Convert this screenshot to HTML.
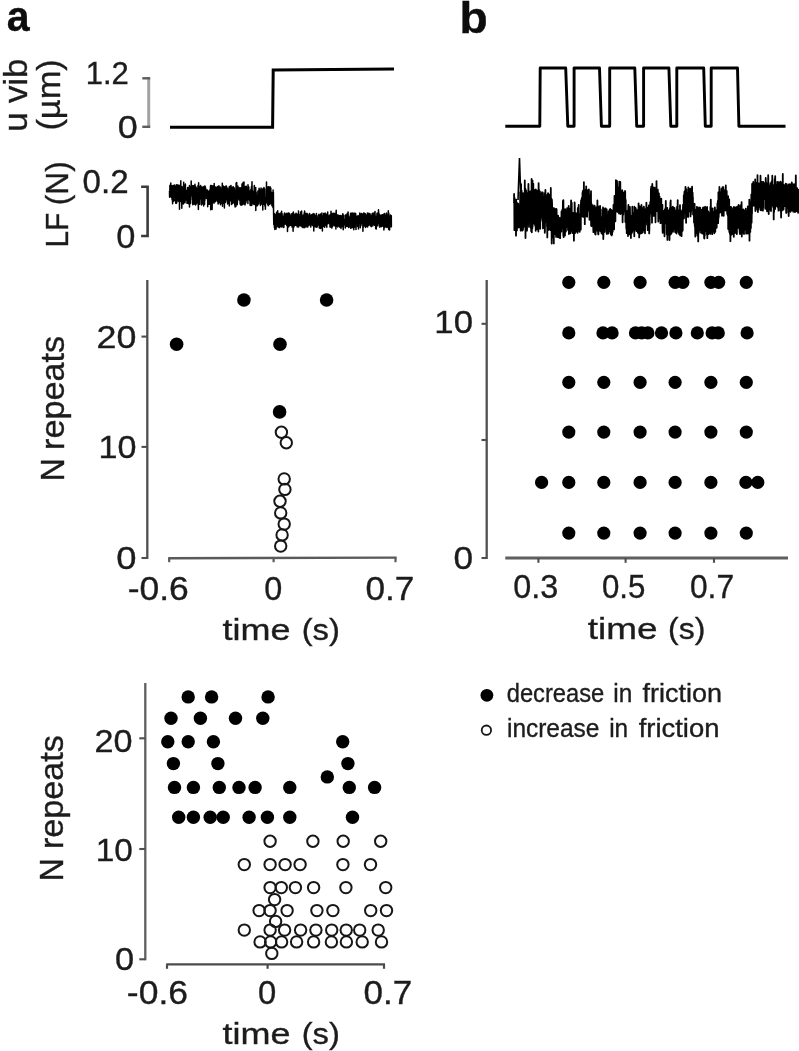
<!DOCTYPE html>
<html><head><meta charset="utf-8"><title>figure</title>
<style>html,body{margin:0;padding:0;background:#fff}svg{display:block;font-family:"Liberation Sans",sans-serif}</style>
</head><body>
<svg width="799" height="1051" viewBox="0 0 799 1051">
<defs><filter id="soft" filterUnits="userSpaceOnUse" x="0" y="0" width="799" height="1051"><feGaussianBlur stdDeviation="0.55"/></filter></defs>
<rect width="799" height="1051" fill="#fff"/>
<g filter="url(#soft)">
<line x1="148.7" y1="77.6" x2="148.7" y2="127.4" stroke="#a2a2a2" stroke-width="3.0"/>
<line x1="142.3" y1="78.3" x2="150.2" y2="78.3" stroke="#5c5c5c" stroke-width="2.4"/>
<line x1="142.3" y1="126.8" x2="150.2" y2="126.8" stroke="#5c5c5c" stroke-width="2.4"/>
<path d="M141.1 186.8 H147.6 V236 H141.1" fill="none" stroke="#3a3a3a" stroke-width="2.6" />
<path d="M170 127.3 H272.6 L273.2 70 L394 69" fill="none" stroke="#000" stroke-width="3" stroke-linejoin="miter"/>
<path d="M169.5,190.9 169.6,197.2 169.8,195.0 169.9,185.7 170.0,185.3 170.1,186.0 170.3,192.8 170.4,187.0 170.5,196.8 170.7,195.8 170.8,183.1 170.9,187.4 171.1,190.6 171.2,188.1 171.3,197.0 171.4,195.3 171.6,185.8 171.7,197.8 171.8,190.7 172.0,193.4 172.1,200.0 172.2,189.4 172.4,194.8 172.5,198.8 172.6,203.7 172.7,192.8 172.9,187.6 173.0,185.4 173.1,199.5 173.3,201.6 173.4,198.2 173.5,195.9 173.7,201.0 173.8,193.9 173.9,185.9 174.0,197.2 174.2,200.6 174.3,192.2 174.4,185.1 174.6,188.0 174.7,185.9 174.8,187.2 175.0,192.3 175.1,186.3 175.2,195.4 175.3,200.6 175.5,190.1 175.6,191.7 175.7,203.3 175.9,188.2 176.0,189.3 176.1,196.2 176.3,184.8 176.4,191.9 176.5,203.2 176.6,194.7 176.8,197.9 176.9,202.2 177.0,201.7 177.2,192.4 177.3,186.8 177.4,186.0 177.6,188.8 177.7,191.4 177.8,184.8 177.9,186.7 178.1,185.3 178.2,196.7 178.3,189.7 178.5,191.8 178.6,201.2 178.7,193.8 178.9,186.5 179.0,191.4 179.1,200.9 179.2,185.3 179.4,195.0 179.5,209.2 179.6,201.5 179.8,189.9 179.9,188.1 180.0,195.1 180.2,191.2 180.3,200.6 180.4,201.4 180.5,200.7 180.7,189.2 180.8,180.8 180.9,194.0 181.1,196.6 181.2,200.5 181.3,191.6 181.5,186.4 181.6,194.0 181.7,194.2 181.8,208.3 182.0,186.5 182.1,202.5 182.2,199.4 182.4,188.3 182.5,191.3 182.6,203.7 182.8,192.7 182.9,198.9 183.0,187.4 183.1,202.4 183.3,187.7 183.4,203.9 183.5,191.7 183.7,182.2 183.8,203.0 183.9,201.8 184.1,189.0 184.2,190.6 184.3,196.3 184.4,193.0 184.6,202.6 184.7,193.8 184.8,202.5 185.0,202.7 185.1,195.2 185.2,185.3 185.4,184.1 185.5,194.1 185.6,195.7 185.7,195.0 185.9,200.1 186.0,195.8 186.1,190.3 186.3,194.8 186.4,199.7 186.5,193.6 186.7,194.8 186.8,198.4 186.9,195.3 187.0,203.2 187.2,202.0 187.3,190.0 187.4,203.3 187.6,187.6 187.7,193.6 187.8,189.7 188.0,198.0 188.1,202.4 188.2,198.9 188.3,187.8 188.5,203.8 188.6,203.5 188.7,194.5 188.9,201.1 189.0,193.4 189.1,191.6 189.3,191.2 189.4,185.4 189.5,207.1 189.6,190.8 189.8,187.2 189.9,189.5 190.0,186.7 190.2,202.6 190.3,199.7 190.4,201.5 190.6,203.4 190.7,195.5 190.8,194.6 190.9,190.5 191.1,188.6 191.2,181.0 191.3,186.7 191.5,186.4 191.6,193.9 191.7,195.8 191.9,190.3 192.0,195.3 192.1,187.2 192.2,186.1 192.4,191.1 192.5,199.8 192.6,194.8 192.8,204.7 192.9,185.5 193.0,204.1 193.2,189.9 193.3,197.9 193.4,197.8 193.5,202.3 193.7,191.1 193.8,189.6 193.9,202.2 194.1,187.8 194.2,204.2 194.3,185.4 194.5,202.2 194.6,186.2 194.7,192.5 194.8,204.0 195.0,184.3 195.1,193.8 195.2,203.8 195.4,195.8 195.5,203.9 195.6,205.0 195.8,190.6 195.9,190.0 196.0,186.9 196.1,188.0 196.3,192.8 196.4,197.4 196.5,203.7 196.7,188.2 196.8,200.4 196.9,200.0 197.1,194.8 197.2,197.2 197.3,201.2 197.4,195.1 197.6,198.8 197.7,202.8 197.8,196.2 198.0,185.5 198.1,200.7 198.2,203.7 198.4,209.5 198.5,192.5 198.6,182.7 198.7,185.3 198.9,199.7 199.0,195.6 199.1,186.5 199.3,190.1 199.4,190.4 199.5,189.2 199.7,204.2 199.8,192.7 199.9,198.5 200.0,197.2 200.2,186.8 200.3,190.2 200.4,191.2 200.6,185.5 200.7,190.5 200.8,198.7 201.0,190.9 201.1,194.3 201.2,187.6 201.3,189.1 201.5,205.1 201.6,195.1 201.7,204.6 201.9,203.1 202.0,186.7 202.1,199.8 202.3,192.3 202.4,197.5 202.5,187.5 202.6,195.0 202.8,192.9 202.9,203.7 203.0,193.2 203.2,193.4 203.3,187.7 203.4,191.6 203.6,193.0 203.7,206.0 203.8,186.6 203.9,202.2 204.1,203.3 204.2,201.9 204.3,186.3 204.5,197.7 204.6,204.2 204.7,191.5 204.9,200.6 205.0,185.9 205.1,193.1 205.2,196.1 205.4,186.9 205.5,193.3 205.6,188.1 205.8,194.8 205.9,196.0 206.0,193.4 206.2,190.3 206.3,198.0 206.4,190.0 206.5,198.4 206.7,197.9 206.8,195.1 206.9,196.1 207.1,191.9 207.2,193.7 207.3,190.1 207.5,196.2 207.6,192.6 207.7,206.8 207.8,199.9 208.0,190.7 208.1,195.1 208.2,192.4 208.4,195.7 208.5,201.9 208.6,202.8 208.8,198.0 208.9,191.5 209.0,204.2 209.1,193.7 209.3,201.0 209.4,194.9 209.5,203.5 209.7,195.7 209.8,194.2 209.9,189.8 210.1,204.3 210.2,201.5 210.3,201.9 210.4,187.1 210.6,185.5 210.7,209.8 210.8,197.6 211.0,194.0 211.1,187.4 211.2,203.8 211.4,190.5 211.5,185.5 211.6,204.8 211.7,191.6 211.9,190.2 212.0,208.5 212.1,209.4 212.3,198.1 212.4,189.9 212.5,192.7 212.7,199.0 212.8,192.5 212.9,185.7 213.0,201.9 213.2,195.1 213.3,200.4 213.4,194.6 213.6,202.8 213.7,197.6 213.8,202.9 214.0,203.2 214.1,197.1 214.2,183.4 214.3,199.3 214.5,194.3 214.6,191.7 214.7,187.1 214.9,189.3 215.0,195.7 215.1,191.6 215.3,201.8 215.4,194.2 215.5,187.1 215.6,193.7 215.8,196.5 215.9,193.0 216.0,191.6 216.2,187.3 216.3,189.4 216.4,194.3 216.6,199.9 216.7,197.8 216.8,197.7 216.9,192.9 217.1,201.2 217.2,189.4 217.3,197.4 217.5,192.1 217.6,186.5 217.7,199.0 217.9,191.4 218.0,197.2 218.1,204.0 218.2,201.6 218.4,199.5 218.5,200.7 218.6,203.4 218.8,188.2 218.9,185.8 219.0,191.5 219.2,188.6 219.3,202.4 219.4,200.9 219.5,195.6 219.7,188.8 219.8,198.3 219.9,196.2 220.1,193.9 220.2,187.1 220.3,189.7 220.5,204.8 220.6,189.0 220.7,194.6 220.8,190.2 221.0,200.7 221.1,200.8 221.2,191.1 221.4,190.6 221.5,194.2 221.6,190.3 221.8,203.3 221.9,187.0 222.0,190.5 222.1,198.3 222.3,183.3 222.4,201.6 222.5,206.3 222.7,186.7 222.8,201.8 222.9,187.2 223.1,189.2 223.2,200.8 223.3,185.9 223.4,199.5 223.6,186.5 223.7,186.6 223.8,186.5 224.0,203.5 224.1,201.6 224.2,193.0 224.4,208.0 224.5,187.0 224.6,193.4 224.7,198.2 224.9,189.0 225.0,193.7 225.1,191.7 225.3,191.8 225.4,192.7 225.5,202.5 225.7,192.8 225.8,199.9 225.9,185.9 226.0,194.0 226.2,193.7 226.3,194.7 226.4,186.1 226.6,198.2 226.7,187.5 226.8,193.0 227.0,188.7 227.1,195.9 227.2,187.9 227.3,201.4 227.5,189.7 227.6,204.1 227.7,195.2 227.9,203.8 228.0,203.4 228.1,201.8 228.3,201.1 228.4,193.7 228.5,201.9 228.6,190.1 228.8,195.9 228.9,188.3 229.0,199.9 229.2,186.7 229.3,205.9 229.4,197.5 229.6,198.0 229.7,194.0 229.8,194.1 229.9,194.5 230.1,186.3 230.2,195.4 230.3,200.7 230.5,194.8 230.6,195.1 230.7,188.4 230.9,187.7 231.0,185.5 231.1,200.1 231.2,195.8 231.4,195.7 231.5,204.4 231.6,202.5 231.8,200.1 231.9,189.7 232.0,195.5 232.2,203.7 232.3,201.2 232.4,187.2 232.5,200.6 232.7,203.3 232.8,201.8 232.9,195.7 233.1,190.0 233.2,195.8 233.3,186.7 233.5,189.1 233.6,199.1 233.7,189.2 233.8,188.2 234.0,198.3 234.1,202.9 234.2,197.2 234.4,188.0 234.5,198.2 234.6,201.4 234.8,205.2 234.9,193.0 235.0,194.6 235.1,207.0 235.3,204.7 235.4,204.0 235.5,200.2 235.7,190.3 235.8,198.1 235.9,206.6 236.1,183.1 236.2,191.9 236.3,196.4 236.4,191.9 236.6,193.1 236.7,182.4 236.8,194.8 237.0,188.8 237.1,191.3 237.2,204.8 237.4,202.0 237.5,197.6 237.6,197.7 237.7,195.6 237.9,186.1 238.0,186.6 238.1,189.2 238.3,188.1 238.4,198.8 238.5,194.1 238.7,198.5 238.8,194.1 238.9,195.9 239.0,198.2 239.2,200.1 239.3,196.5 239.4,194.6 239.6,187.7 239.7,189.5 239.8,191.2 240.0,188.5 240.1,204.0 240.2,191.2 240.3,198.4 240.5,199.4 240.6,205.0 240.7,204.1 240.9,187.8 241.0,189.4 241.1,202.4 241.3,189.2 241.4,189.9 241.5,197.8 241.6,202.7 241.8,205.2 241.9,196.5 242.0,183.9 242.2,200.2 242.3,192.1 242.4,198.2 242.6,203.8 242.7,186.7 242.8,204.2 242.9,185.5 243.1,182.4 243.2,187.4 243.3,193.2 243.5,202.1 243.6,187.5 243.7,203.9 243.9,188.3 244.0,182.0 244.1,198.4 244.2,188.1 244.4,200.9 244.5,192.4 244.6,186.6 244.8,191.7 244.9,193.3 245.0,204.9 245.2,202.7 245.3,186.8 245.4,194.7 245.5,192.9 245.7,196.7 245.8,202.9 245.9,202.1 246.1,186.3 246.2,201.0 246.3,186.3 246.5,195.8 246.6,189.8 246.7,193.0 246.8,191.3 247.0,191.8 247.1,199.8 247.2,188.4 247.4,187.8 247.5,199.8 247.6,198.4 247.8,194.0 247.9,203.5 248.0,184.7 248.1,194.6 248.3,189.6 248.4,198.5 248.5,188.7 248.7,199.6 248.8,186.9 248.9,196.4 249.1,195.0 249.2,192.6 249.3,199.7 249.4,190.8 249.6,198.8 249.7,196.2 249.8,200.9 250.0,198.3 250.1,205.2 250.2,198.0 250.4,190.9 250.5,191.3 250.6,205.6 250.7,199.1 250.9,189.3 251.0,192.2 251.1,191.6 251.3,204.0 251.4,203.5 251.5,186.6 251.7,194.8 251.8,205.4 251.9,186.8 252.0,181.7 252.2,194.7 252.3,200.9 252.4,190.8 252.6,203.4 252.7,199.9 252.8,199.5 253.0,195.2 253.1,198.6 253.2,194.5 253.3,200.2 253.5,191.2 253.6,195.2 253.7,194.3 253.9,204.4 254.0,199.1 254.1,193.9 254.3,185.6 254.4,201.6 254.5,196.5 254.6,197.6 254.8,200.3 254.9,198.8 255.0,196.5 255.2,204.8 255.3,199.7 255.4,201.2 255.6,205.5 255.7,187.5 255.8,210.5 255.9,198.6 256.1,197.7 256.2,192.3 256.3,204.9 256.5,205.7 256.6,195.4 256.7,204.5 256.9,201.9 257.0,198.9 257.1,202.3 257.2,199.4 257.4,201.9 257.5,205.8 257.6,199.1 257.8,195.6 257.9,191.0 258.0,199.8 258.2,199.6 258.3,202.1 258.4,193.4 258.5,192.7 258.7,198.6 258.8,203.9 258.9,192.4 259.1,188.2 259.2,192.8 259.3,196.8 259.5,197.8 259.6,190.6 259.7,192.2 259.8,197.7 260.0,190.1 260.1,201.7 260.2,194.3 260.4,198.4 260.5,205.5 260.6,204.0 260.8,198.9 260.9,196.1 261.0,188.1 261.1,199.6 261.3,188.9 261.4,202.6 261.5,197.4 261.7,204.1 261.8,191.3 261.9,198.2 262.1,189.7 262.2,200.1 262.3,192.3 262.4,194.8 262.6,199.7 262.7,193.6 262.8,210.1 263.0,188.4 263.1,201.3 263.2,190.7 263.4,189.1 263.5,199.4 263.6,201.7 263.7,204.3 263.9,193.2 264.0,187.6 264.1,193.5 264.3,193.1 264.4,203.5 264.5,190.6 264.7,188.9 264.8,200.5 264.9,205.5 265.0,206.0 265.2,197.4 265.3,197.8 265.4,209.2 265.6,199.4 265.7,204.3 265.8,198.6 266.0,200.2 266.1,199.9 266.2,199.6 266.3,201.4 266.5,182.0 266.6,199.4 266.7,202.6 266.9,197.6 267.0,192.5 267.1,192.9 267.3,199.1 267.4,187.7 267.5,187.5 267.6,202.4 267.8,204.5 267.9,187.0 268.0,198.2 268.2,205.7 268.3,194.7 268.4,199.2 268.6,186.7 268.7,199.7 268.8,203.4 268.9,189.1 269.1,192.1 269.2,195.5 269.3,204.6 269.5,201.2 269.6,189.5 269.7,192.4 269.9,196.4 270.0,204.0 270.1,186.7 270.2,199.4 270.4,188.3 270.5,200.9 270.6,203.4 270.8,187.9 270.9,197.9 271.0,199.9 271.2,202.2 271.3,199.3 271.4,194.9 271.5,202.0 271.7,202.0 271.8,192.5 271.9,205.7 272.1,202.8 272.2,198.5 272.3,202.9 272.5,192.8 272.6,204.0 272.7,200.1 272.8,204.2 273.0,207.6 273.1,189.9 273.2,201.6 273.4,192.4 273.5,204.1 273.6,215.1 273.8,224.6 273.9,224.4 274.0,220.8 274.1,220.1 274.3,224.5 274.4,227.4 274.5,213.8 274.7,223.3 274.8,229.4 274.9,214.3 275.1,224.3 275.2,221.5 275.3,225.9 275.4,220.0 275.6,215.8 275.7,215.6 275.8,218.3 276.0,218.9 276.1,229.1 276.2,214.5 276.4,224.5 276.5,221.7 276.6,212.2 276.7,225.7 276.9,221.6 277.0,226.5 277.1,214.4 277.3,221.7 277.4,214.9 277.5,217.9 277.7,210.8 277.8,225.7 277.9,226.8 278.0,213.9 278.2,218.8 278.3,227.0 278.4,221.2 278.6,227.0 278.7,218.7 278.8,215.3 279.0,227.5 279.1,213.6 279.2,218.1 279.3,226.2 279.5,213.7 279.6,223.4 279.7,227.4 279.9,215.1 280.0,226.7 280.1,217.4 280.3,224.1 280.4,217.7 280.5,214.8 280.6,215.5 280.8,215.1 280.9,213.2 281.0,212.7 281.2,222.0 281.3,223.9 281.4,227.0 281.6,211.2 281.7,218.0 281.8,220.0 281.9,215.1 282.1,213.8 282.2,221.1 282.3,225.7 282.5,219.0 282.6,217.0 282.7,217.9 282.9,220.2 283.0,226.2 283.1,227.3 283.2,226.1 283.4,216.1 283.5,217.2 283.6,215.9 283.8,227.5 283.9,226.5 284.0,217.2 284.2,213.8 284.3,217.3 284.4,213.2 284.5,218.0 284.7,213.0 284.8,220.7 284.9,219.4 285.1,216.2 285.2,215.0 285.3,224.3 285.5,215.9 285.6,214.3 285.7,220.2 285.8,216.0 286.0,223.3 286.1,221.5 286.2,214.0 286.4,219.0 286.5,213.8 286.6,217.9 286.8,225.6 286.9,213.2 287.0,220.0 287.1,216.9 287.3,225.1 287.4,215.4 287.5,231.4 287.7,214.0 287.8,216.6 287.9,226.3 288.1,225.7 288.2,226.1 288.3,214.6 288.4,212.9 288.6,227.1 288.7,215.7 288.8,216.7 289.0,213.4 289.1,223.2 289.2,213.2 289.4,221.4 289.5,223.3 289.6,225.7 289.7,213.7 289.9,220.2 290.0,217.1 290.1,218.9 290.3,221.6 290.4,215.1 290.5,223.9 290.7,225.1 290.8,218.7 290.9,225.3 291.0,218.8 291.2,224.3 291.3,216.5 291.4,219.4 291.6,224.8 291.7,224.9 291.8,213.8 292.0,227.0 292.1,216.6 292.2,222.2 292.3,220.8 292.5,219.3 292.6,213.3 292.7,227.2 292.9,226.7 293.0,224.8 293.1,231.2 293.3,222.1 293.4,212.0 293.5,220.6 293.6,226.9 293.8,217.5 293.9,214.7 294.0,227.0 294.2,216.9 294.3,220.8 294.4,214.8 294.6,217.3 294.7,217.2 294.8,214.3 294.9,225.3 295.1,221.3 295.2,215.9 295.3,219.7 295.5,221.9 295.6,217.5 295.7,216.2 295.9,218.6 296.0,213.2 296.1,225.6 296.2,221.1 296.4,217.2 296.5,217.3 296.6,215.3 296.8,225.7 296.9,213.9 297.0,219.4 297.2,214.6 297.3,227.0 297.4,215.2 297.5,218.1 297.7,222.0 297.8,225.0 297.9,223.8 298.1,224.1 298.2,224.5 298.3,226.4 298.5,211.1 298.6,227.1 298.7,219.1 298.8,225.7 299.0,218.5 299.1,219.7 299.2,217.3 299.4,221.1 299.5,217.7 299.6,225.4 299.8,219.5 299.9,217.4 300.0,221.4 300.1,214.3 300.3,217.7 300.4,225.2 300.5,216.0 300.7,212.0 300.8,226.1 300.9,220.8 301.1,222.1 301.2,225.1 301.3,219.3 301.4,213.6 301.6,211.0 301.7,214.4 301.8,218.9 302.0,221.4 302.1,227.1 302.2,219.4 302.4,227.6 302.5,220.7 302.6,215.5 302.7,227.3 302.9,220.5 303.0,226.1 303.1,225.0 303.3,226.0 303.4,215.3 303.5,220.5 303.7,215.7 303.8,222.2 303.9,218.2 304.0,227.7 304.2,213.0 304.3,221.1 304.4,218.8 304.6,211.1 304.7,221.1 304.8,222.4 305.0,227.6 305.1,219.0 305.2,215.3 305.3,214.5 305.5,215.5 305.6,225.0 305.7,224.8 305.9,213.2 306.0,217.7 306.1,218.2 306.3,216.9 306.4,226.2 306.5,218.1 306.6,218.6 306.8,226.0 306.9,227.0 307.0,222.1 307.2,213.6 307.3,225.5 307.4,226.1 307.6,217.4 307.7,227.0 307.8,226.9 307.9,218.7 308.1,216.2 308.2,225.8 308.3,224.6 308.5,215.5 308.6,215.7 308.7,217.2 308.9,214.7 309.0,218.6 309.1,213.9 309.2,225.1 309.4,216.6 309.5,217.1 309.6,213.5 309.8,218.0 309.9,223.3 310.0,216.9 310.2,214.9 310.3,225.2 310.4,215.3 310.5,223.6 310.7,227.0 310.8,226.9 310.9,216.3 311.1,214.9 311.2,216.8 311.3,221.6 311.5,216.6 311.6,216.1 311.7,214.8 311.8,220.9 312.0,224.3 312.1,222.6 312.2,217.5 312.4,214.2 312.5,225.4 312.6,222.7 312.8,221.2 312.9,220.3 313.0,214.0 313.1,216.3 313.3,223.5 313.4,218.9 313.5,224.3 313.7,225.6 313.8,231.1 313.9,213.4 314.1,219.8 314.2,218.8 314.3,214.4 314.4,217.0 314.6,216.2 314.7,218.9 314.8,219.3 315.0,215.3 315.1,221.1 315.2,226.8 315.4,216.3 315.5,220.6 315.6,222.8 315.7,226.7 315.9,224.2 316.0,226.2 316.1,221.5 316.3,227.2 316.4,213.5 316.5,224.4 316.7,226.3 316.8,223.9 316.9,222.0 317.0,220.7 317.2,226.9 317.3,218.0 317.4,223.1 317.6,222.1 317.7,222.9 317.8,222.8 318.0,224.4 318.1,215.8 318.2,225.1 318.3,215.5 318.5,224.4 318.6,216.8 318.7,215.4 318.9,214.3 319.0,215.0 319.1,220.1 319.3,228.1 319.4,222.4 319.5,214.9 319.6,221.6 319.8,222.2 319.9,219.2 320.0,222.9 320.2,227.3 320.3,218.9 320.4,228.4 320.6,213.9 320.7,215.9 320.8,219.5 320.9,217.7 321.1,218.3 321.2,227.9 321.3,223.5 321.5,221.2 321.6,220.1 321.7,215.8 321.9,213.1 322.0,222.4 322.1,226.7 322.2,216.7 322.4,230.9 322.5,217.3 322.6,222.3 322.8,226.5 322.9,224.5 323.0,223.8 323.2,215.7 323.3,217.7 323.4,221.0 323.5,225.1 323.7,213.6 323.8,222.2 323.9,223.3 324.1,226.8 324.2,220.3 324.3,217.4 324.5,214.2 324.6,215.4 324.7,227.2 324.8,213.6 325.0,215.8 325.1,213.0 325.2,225.5 325.4,219.2 325.5,222.7 325.6,219.1 325.8,219.4 325.9,225.1 326.0,215.4 326.1,219.5 326.3,218.1 326.4,214.2 326.5,219.7 326.7,226.3 326.8,227.2 326.9,222.1 327.1,213.9 327.2,221.9 327.3,221.3 327.4,220.0 327.6,217.4 327.7,212.1 327.8,223.8 328.0,215.1 328.1,221.1 328.2,218.3 328.4,219.4 328.5,216.3 328.6,216.0 328.7,216.2 328.9,222.5 329.0,222.8 329.1,216.3 329.3,220.9 329.4,223.7 329.5,221.3 329.7,222.9 329.8,215.0 329.9,220.4 330.0,226.9 330.2,227.0 330.3,219.7 330.4,220.9 330.6,215.8 330.7,214.4 330.8,222.0 331.0,211.2 331.1,214.8 331.2,226.3 331.3,227.4 331.5,214.7 331.6,218.2 331.7,225.3 331.9,228.1 332.0,218.4 332.1,226.9 332.3,213.6 332.4,214.4 332.5,224.7 332.6,226.5 332.8,216.7 332.9,219.5 333.0,221.5 333.2,213.3 333.3,224.7 333.4,221.1 333.6,223.0 333.7,215.1 333.8,220.9 333.9,224.8 334.1,213.2 334.2,215.2 334.3,225.8 334.5,213.5 334.6,225.0 334.7,218.7 334.9,215.3 335.0,218.7 335.1,221.9 335.2,217.8 335.4,226.1 335.5,213.6 335.6,218.3 335.8,221.4 335.9,228.9 336.0,213.3 336.2,210.2 336.3,215.1 336.4,213.9 336.5,218.2 336.7,221.5 336.8,223.2 336.9,226.2 337.1,215.9 337.2,221.3 337.3,224.6 337.5,216.5 337.6,215.1 337.7,227.1 337.8,218.3 338.0,216.6 338.1,223.5 338.2,223.3 338.4,225.9 338.5,220.4 338.6,224.8 338.8,215.2 338.9,226.0 339.0,218.9 339.1,224.3 339.3,221.6 339.4,223.5 339.5,221.4 339.7,227.1 339.8,215.8 339.9,221.5 340.1,218.2 340.2,227.2 340.3,223.5 340.4,225.3 340.6,215.6 340.7,221.0 340.8,222.1 341.0,228.4 341.1,221.8 341.2,222.5 341.4,223.7 341.5,221.8 341.6,224.8 341.7,218.0 341.9,215.7 342.0,225.8 342.1,226.5 342.3,217.8 342.4,222.5 342.5,222.9 342.7,213.8 342.8,213.7 342.9,217.9 343.0,221.7 343.2,229.8 343.3,227.4 343.4,222.0 343.6,217.8 343.7,215.3 343.8,224.2 344.0,224.9 344.1,220.9 344.2,221.1 344.3,221.8 344.5,223.8 344.6,223.4 344.7,224.3 344.9,224.3 345.0,219.6 345.1,220.6 345.3,228.0 345.4,224.8 345.5,215.2 345.6,218.9 345.8,226.7 345.9,214.8 346.0,216.0 346.2,216.8 346.3,223.8 346.4,225.7 346.6,224.4 346.7,218.1 346.8,219.4 346.9,216.1 347.1,226.2 347.2,216.1 347.3,213.4 347.5,213.2 347.6,226.3 347.7,218.1 347.9,218.5 348.0,218.5 348.1,212.0 348.2,219.3 348.4,216.0 348.5,222.4 348.6,227.5 348.8,221.3 348.9,225.6 349.0,216.9 349.2,225.0 349.3,217.8 349.4,226.0 349.5,223.0 349.7,219.6 349.8,225.9 349.9,225.9 350.1,224.4 350.2,215.7 350.3,227.5 350.5,213.3 350.6,228.2 350.7,223.8 350.8,215.5 351.0,214.3 351.1,226.4 351.2,225.9 351.4,213.5 351.5,224.6 351.6,213.5 351.8,216.4 351.9,227.9 352.0,214.6 352.1,227.2 352.3,213.0 352.4,220.9 352.5,221.0 352.7,220.7 352.8,227.0 352.9,227.2 353.1,227.2 353.2,214.0 353.3,213.2 353.4,227.1 353.6,213.7 353.7,226.9 353.8,229.7 354.0,221.0 354.1,227.4 354.2,223.5 354.4,217.6 354.5,227.2 354.6,218.6 354.7,215.1 354.9,213.1 355.0,226.5 355.1,221.9 355.3,216.5 355.4,214.7 355.5,224.5 355.7,213.7 355.8,217.7 355.9,221.0 356.0,229.6 356.2,221.6 356.3,216.4 356.4,223.9 356.6,223.4 356.7,220.7 356.8,222.9 357.0,222.2 357.1,216.3 357.2,216.9 357.3,219.9 357.5,220.6 357.6,216.2 357.7,226.5 357.9,220.6 358.0,224.9 358.1,215.5 358.3,219.7 358.4,225.1 358.5,229.0 358.6,225.6 358.8,219.0 358.9,218.5 359.0,222.7 359.2,217.4 359.3,217.0 359.4,219.5 359.6,222.3 359.7,215.5 359.8,213.1 359.9,220.1 360.1,222.1 360.2,224.7 360.3,227.8 360.5,215.6 360.6,217.0 360.7,216.5 360.9,214.3 361.0,225.5 361.1,219.2 361.2,222.0 361.4,213.6 361.5,218.4 361.6,217.3 361.8,222.5 361.9,218.1 362.0,221.5 362.2,215.8 362.3,223.4 362.4,222.7 362.5,214.0 362.7,218.5 362.8,220.3 362.9,231.2 363.1,223.2 363.2,227.5 363.3,213.9 363.5,215.0 363.6,213.1 363.7,215.9 363.8,226.5 364.0,217.8 364.1,219.7 364.2,225.4 364.4,213.2 364.5,225.4 364.6,219.6 364.8,215.9 364.9,225.6 365.0,223.9 365.1,215.0 365.3,213.7 365.4,217.7 365.5,227.4 365.7,220.9 365.8,214.3 365.9,222.7 366.1,218.8 366.2,222.9 366.3,216.6 366.4,219.4 366.6,217.4 366.7,216.0 366.8,226.6 367.0,223.4 367.1,226.6 367.2,219.7 367.4,222.7 367.5,213.1 367.6,226.9 367.7,213.5 367.9,219.4 368.0,216.1 368.1,221.9 368.3,223.6 368.4,216.0 368.5,225.5 368.7,215.0 368.8,224.9 368.9,213.2 369.0,223.8 369.2,216.2 369.3,223.9 369.4,220.8 369.6,224.4 369.7,220.5 369.8,215.9 370.0,213.7 370.1,225.2 370.2,219.5 370.3,225.7 370.5,214.9 370.6,219.5 370.7,225.8 370.9,223.3 371.0,217.5 371.1,221.0 371.3,226.8 371.4,216.4 371.5,217.8 371.6,217.2 371.8,223.1 371.9,215.2 372.0,217.9 372.2,213.6 372.3,222.6 372.4,222.6 372.6,214.1 372.7,213.2 372.8,226.0 372.9,215.9 373.1,217.4 373.2,224.0 373.3,219.9 373.5,224.2 373.6,221.5 373.7,221.5 373.9,213.0 374.0,215.2 374.1,215.5 374.2,220.0 374.4,218.3 374.5,225.2 374.6,223.6 374.8,223.9 374.9,215.3 375.0,211.4 375.2,223.2 375.3,225.2 375.4,223.6 375.5,218.2 375.7,228.8 375.8,216.8 375.9,216.5 376.1,216.9 376.2,217.7 376.3,229.0 376.5,215.9 376.6,216.0 376.7,216.5 376.8,220.3 377.0,213.2 377.1,220.1 377.2,221.3 377.4,216.3 377.5,215.2 377.6,213.4 377.8,220.6 377.9,226.0 378.0,221.4 378.1,221.7 378.3,223.4 378.4,216.6 378.5,209.8 378.7,218.0 378.8,219.7 378.9,213.1 379.1,219.0 379.2,214.3 379.3,223.7 379.4,215.2 379.6,215.0 379.7,216.2 379.8,227.3 380.0,224.6 380.1,220.3 380.2,226.3 380.4,222.3 380.5,222.1 380.6,224.5 380.7,223.5 380.9,215.4 381.0,222.8 381.1,215.0 381.3,226.7 381.4,223.9 381.5,224.7 381.7,219.4 381.8,224.5 381.9,217.4 382.0,220.8 382.2,214.7 382.3,224.5 382.4,225.2 382.6,215.9 382.7,216.4 382.8,226.3 383.0,223.4 383.1,224.4 383.2,223.0 383.3,225.1 383.5,214.3 383.6,225.2 383.7,221.7 383.9,229.9 384.0,226.9 384.1,219.9 384.3,217.4 384.4,221.0 384.5,218.7 384.6,213.5 384.8,227.5 384.9,226.0 385.0,220.9 385.2,216.2 385.3,218.5 385.4,218.7 385.6,215.2 385.7,218.1 385.8,225.9 385.9,217.5 386.1,225.8 386.2,221.9 386.3,227.1 386.5,213.1 386.6,214.5 386.7,221.3 386.9,223.8 387.0,227.4 387.1,224.0 387.2,215.0 387.4,216.7 387.5,220.5 387.6,216.9 387.8,217.5 387.9,223.0 388.0,224.8 388.2,222.6 388.3,210.8 388.4,219.5 388.5,226.0 388.7,229.5 388.8,213.1 388.9,217.0 389.1,226.4 389.2,227.6 389.3,221.6 389.5,222.2 389.6,230.1 389.7,224.8 389.8,218.6 390.0,223.4 390.1,217.0 390.2,221.4 390.4,224.6 390.5,215.0 390.6,225.8 390.8,223.8 390.9,217.6 391.0,217.3 391.1,227.1 391.3,215.7 391.4,226.8" fill="none" stroke="#000" stroke-width="1.5" stroke-linejoin="round"/>
<path d="M505.3 126.2 H539.8 L540.2 68 H565.7 L567.8 126.2 H574.1 V68 H599.5 L601.4 126.2 H609.7 V68 H634.8 L636.7 126.2 H643.6 V68 H668.9 L670.8 126.2 H676.8 V68 H703.7 L705.3 126.2 H711.2 V68 H737.5 L738.9 126.2 H785.5" fill="none" stroke="#000" stroke-width="2.9" stroke-linejoin="round"/>
<path d="M514.0,202.9 514.1,193.9 514.3,206.0 514.4,230.2 514.6,197.9 514.7,208.4 514.8,216.3 515.0,202.6 515.1,221.4 515.3,213.0 515.4,221.2 515.5,204.7 515.7,211.7 515.8,216.0 516.0,235.7 516.1,229.2 516.2,199.6 516.4,212.6 516.5,218.1 516.7,223.6 516.8,202.3 516.9,230.4 517.1,218.7 517.2,206.0 517.4,220.8 517.5,205.9 517.6,204.1 517.8,226.3 517.9,211.4 518.1,227.6 518.2,203.6 518.3,206.8 518.5,225.5 518.6,213.8 518.8,213.6 518.9,225.2 519.0,224.9 519.2,217.8 519.3,210.5 519.5,227.4 519.6,224.1 519.7,226.6 519.9,219.2 520.0,215.3 520.2,192.1 520.3,224.3 520.4,198.3 520.6,193.2 520.7,230.7 520.9,204.5 521.0,192.3 521.1,184.2 521.3,210.6 521.4,214.3 521.6,190.6 521.7,209.1 521.8,201.8 522.0,230.3 522.1,199.0 522.3,224.1 522.4,230.6 522.5,219.6 522.7,196.6 522.8,200.6 523.0,229.8 523.1,193.1 523.2,205.8 523.4,206.6 523.5,226.7 523.7,205.0 523.8,217.2 523.9,216.5 524.1,207.6 524.2,226.7 524.4,197.4 524.5,194.0 524.6,221.5 524.8,180.4 524.9,220.8 525.1,197.8 525.2,224.9 525.3,188.5 525.5,238.0 525.6,215.9 525.8,202.7 525.9,193.7 526.0,218.6 526.2,190.5 526.3,222.1 526.5,225.7 526.6,226.8 526.7,192.8 526.9,202.8 527.0,230.7 527.2,211.7 527.3,205.8 527.4,217.1 527.6,197.5 527.7,223.9 527.9,222.2 528.0,196.1 528.1,207.8 528.3,194.0 528.4,184.0 528.6,191.1 528.7,212.0 528.8,203.0 529.0,226.9 529.1,216.4 529.3,199.6 529.4,205.5 529.5,214.4 529.7,197.7 529.8,214.1 530.0,219.3 530.1,192.1 530.2,191.5 530.4,206.3 530.5,219.6 530.7,216.9 530.8,209.3 530.9,227.9 531.1,191.9 531.2,231.2 531.4,205.9 531.5,224.3 531.6,179.0 531.8,232.3 531.9,199.5 532.1,198.6 532.2,228.8 532.3,228.3 532.5,180.7 532.6,226.7 532.8,195.3 532.9,215.4 533.0,210.9 533.2,205.5 533.3,183.6 533.5,215.6 533.6,223.2 533.7,191.6 533.9,201.6 534.0,189.6 534.2,190.3 534.3,223.7 534.4,194.4 534.6,198.1 534.7,193.9 534.9,212.5 535.0,193.2 535.1,225.4 535.3,193.6 535.4,202.1 535.6,195.5 535.7,230.8 535.8,189.5 536.0,194.1 536.1,214.7 536.3,208.6 536.4,215.2 536.5,228.2 536.7,223.1 536.8,224.8 537.0,190.6 537.1,225.4 537.2,226.6 537.4,229.3 537.5,219.3 537.7,202.0 537.8,203.0 537.9,208.1 538.1,217.0 538.2,221.6 538.4,231.5 538.5,200.9 538.6,183.1 538.8,204.4 538.9,189.3 539.1,199.4 539.2,192.6 539.3,190.8 539.5,207.3 539.6,192.0 539.8,208.7 539.9,191.5 540.0,199.7 540.2,228.8 540.3,222.2 540.5,216.8 540.6,221.3 540.7,219.6 540.9,194.3 541.0,215.2 541.2,196.3 541.3,201.3 541.4,203.8 541.6,193.1 541.7,216.5 541.9,217.1 542.0,195.3 542.1,192.1 542.3,192.6 542.4,212.0 542.6,192.4 542.7,220.0 542.8,210.9 543.0,228.4 543.1,227.5 543.3,206.0 543.4,196.6 543.5,226.6 543.7,208.8 543.8,198.0 544.0,222.6 544.1,198.1 544.2,203.5 544.4,225.2 544.5,193.1 544.7,217.4 544.8,232.8 544.9,231.0 545.1,217.0 545.2,198.7 545.4,189.9 545.5,194.8 545.6,204.7 545.8,195.1 545.9,199.9 546.1,211.5 546.2,199.8 546.3,201.4 546.5,221.8 546.6,197.6 546.8,205.7 546.9,216.7 547.0,226.4 547.2,217.7 547.3,237.4 547.5,194.6 547.6,210.8 547.7,210.6 547.9,228.4 548.0,193.2 548.2,201.9 548.3,200.9 548.4,193.6 548.6,211.3 548.7,216.7 548.9,229.8 549.0,194.6 549.1,194.6 549.3,213.2 549.4,197.0 549.6,211.9 549.7,224.7 549.8,225.7 550.0,197.9 550.1,225.3 550.3,222.1 550.4,204.9 550.5,219.4 550.7,230.2 550.8,188.0 551.0,221.4 551.1,210.2 551.2,230.1 551.4,198.6 551.5,221.8 551.7,243.6 551.8,201.0 551.9,199.7 552.1,203.8 552.2,226.1 552.4,233.1 552.5,237.6 552.6,216.9 552.8,233.8 552.9,235.5 553.1,208.5 553.2,208.2 553.3,217.3 553.5,234.9 553.6,216.0 553.8,243.4 553.9,210.8 554.0,208.2 554.2,223.6 554.3,221.8 554.5,212.5 554.6,213.1 554.7,234.2 554.9,209.0 555.0,229.3 555.2,218.7 555.3,231.7 555.4,213.6 555.6,212.9 555.7,229.6 555.9,228.7 556.0,220.0 556.1,236.9 556.3,208.9 556.4,212.3 556.6,209.2 556.7,216.4 556.8,229.0 557.0,221.1 557.1,223.7 557.3,218.9 557.4,224.7 557.5,225.8 557.7,219.4 557.8,237.0 558.0,220.3 558.1,215.6 558.2,229.2 558.4,228.6 558.5,217.7 558.7,221.3 558.8,231.0 558.9,234.9 559.1,217.6 559.2,237.6 559.4,237.4 559.5,220.0 559.6,230.6 559.8,229.4 559.9,222.8 560.1,238.2 560.2,234.6 560.3,223.3 560.5,226.5 560.6,222.1 560.8,217.9 560.9,218.3 561.0,217.3 561.2,228.9 561.3,231.6 561.5,211.3 561.6,216.6 561.7,213.9 561.9,225.8 562.0,219.0 562.2,227.5 562.3,209.7 562.4,228.1 562.6,209.1 562.7,225.9 562.9,200.9 563.0,210.3 563.1,213.0 563.3,235.2 563.4,200.1 563.6,237.2 563.7,217.9 563.8,217.4 564.0,222.2 564.1,209.3 564.3,212.5 564.4,226.5 564.5,215.5 564.7,229.6 564.8,222.4 565.0,235.6 565.1,209.1 565.2,228.4 565.4,229.1 565.5,231.4 565.7,210.3 565.8,213.2 565.9,231.5 566.1,214.3 566.2,227.2 566.4,211.5 566.5,224.7 566.6,226.2 566.8,215.0 566.9,223.1 567.1,208.2 567.2,213.8 567.3,226.1 567.5,225.3 567.6,213.2 567.8,226.7 567.9,211.8 568.0,229.7 568.2,228.1 568.3,230.3 568.5,216.3 568.6,208.7 568.7,205.9 568.9,234.1 569.0,220.4 569.2,210.4 569.3,222.0 569.4,227.6 569.6,229.3 569.7,208.9 569.9,220.8 570.0,226.1 570.1,216.0 570.3,227.2 570.4,217.4 570.6,233.3 570.7,224.4 570.8,219.8 571.0,206.3 571.1,200.3 571.3,225.5 571.4,221.5 571.5,226.5 571.7,202.7 571.8,226.5 572.0,229.8 572.1,218.1 572.2,217.5 572.4,226.6 572.5,231.7 572.7,222.1 572.8,233.1 572.9,226.8 573.1,213.0 573.2,229.4 573.4,217.6 573.5,228.7 573.6,232.3 573.8,230.9 573.9,240.7 574.1,226.1 574.2,223.8 574.3,227.0 574.5,225.7 574.6,202.3 574.8,206.9 574.9,223.6 575.0,233.3 575.2,230.4 575.3,214.0 575.5,217.1 575.6,217.2 575.7,212.9 575.9,218.1 576.0,231.5 576.2,213.4 576.3,229.1 576.4,227.0 576.6,229.4 576.7,225.0 576.9,230.1 577.0,221.7 577.1,229.6 577.3,230.2 577.4,231.2 577.6,232.9 577.7,225.6 577.8,207.9 578.0,221.9 578.1,216.1 578.3,228.5 578.4,212.6 578.5,213.6 578.7,204.9 578.8,208.6 579.0,227.4 579.1,219.5 579.2,229.1 579.4,215.3 579.5,231.7 579.7,231.8 579.8,215.3 579.9,222.7 580.1,223.0 580.2,220.7 580.4,217.3 580.5,223.4 580.6,213.8 580.8,229.6 580.9,204.3 581.1,200.2 581.2,210.2 581.3,208.6 581.5,209.8 581.6,216.3 581.8,197.9 581.9,214.1 582.0,215.5 582.2,200.9 582.3,208.6 582.5,192.6 582.6,196.4 582.7,192.0 582.9,201.6 583.0,190.7 583.2,216.9 583.3,210.6 583.4,214.2 583.6,209.5 583.7,197.4 583.9,182.2 584.0,214.8 584.1,190.7 584.3,210.9 584.4,204.7 584.6,194.7 584.7,202.0 584.8,224.2 585.0,191.4 585.1,202.8 585.3,211.5 585.4,191.7 585.5,216.2 585.7,189.7 585.8,204.5 586.0,211.9 586.1,201.9 586.2,186.4 586.4,212.9 586.5,203.4 586.7,196.1 586.8,192.9 586.9,198.8 587.1,216.8 587.2,212.9 587.4,199.6 587.5,205.7 587.6,190.7 587.8,190.1 587.9,199.1 588.1,209.8 588.2,200.8 588.3,202.2 588.5,201.9 588.6,193.4 588.8,198.0 588.9,189.4 589.0,196.6 589.2,212.0 589.3,200.5 589.5,219.8 589.6,205.6 589.7,198.6 589.9,195.4 590.0,206.6 590.2,215.3 590.3,197.5 590.4,210.5 590.6,207.0 590.7,215.3 590.9,199.2 591.0,191.1 591.1,225.3 591.3,203.0 591.4,226.2 591.6,206.8 591.7,205.6 591.8,218.9 592.0,208.2 592.1,209.5 592.3,216.1 592.4,211.5 592.5,207.9 592.7,205.1 592.8,207.1 593.0,210.2 593.1,208.1 593.2,227.1 593.4,232.1 593.5,222.0 593.7,209.1 593.8,218.7 593.9,227.6 594.1,217.4 594.2,231.1 594.4,223.3 594.5,207.6 594.6,205.7 594.8,211.1 594.9,223.7 595.1,233.8 595.2,234.0 595.3,217.5 595.5,213.1 595.6,234.5 595.8,211.5 595.9,210.8 596.0,227.3 596.2,221.4 596.3,207.5 596.5,228.8 596.6,219.2 596.7,223.4 596.9,217.7 597.0,230.7 597.2,222.3 597.3,211.5 597.4,200.3 597.6,216.7 597.7,211.9 597.9,225.2 598.0,220.0 598.1,234.0 598.3,231.7 598.4,234.4 598.6,225.2 598.7,206.7 598.8,215.7 599.0,222.3 599.1,216.0 599.3,221.9 599.4,230.7 599.5,220.4 599.7,207.9 599.8,208.9 600.0,214.8 600.1,205.8 600.2,214.3 600.4,231.0 600.5,226.9 600.7,227.1 600.8,209.3 600.9,226.8 601.1,224.9 601.2,217.0 601.4,233.0 601.5,218.5 601.6,229.3 601.8,219.4 601.9,217.8 602.1,219.8 602.2,227.6 602.3,225.6 602.5,234.3 602.6,227.3 602.8,224.4 602.9,213.6 603.0,207.5 603.2,209.0 603.3,239.1 603.5,231.1 603.6,214.7 603.7,223.7 603.9,224.7 604.0,224.7 604.2,213.9 604.3,232.0 604.4,230.6 604.6,213.9 604.7,211.1 604.9,215.0 605.0,208.3 605.1,224.1 605.3,212.5 605.4,219.7 605.6,208.3 605.7,224.9 605.8,221.4 606.0,213.8 606.1,209.9 606.3,231.5 606.4,231.8 606.5,232.8 606.7,209.3 606.8,233.9 607.0,216.2 607.1,217.2 607.2,233.8 607.4,214.5 607.5,222.8 607.7,228.2 607.8,219.4 607.9,219.3 608.1,228.4 608.2,226.1 608.4,232.6 608.5,233.5 608.6,211.5 608.8,211.9 608.9,226.5 609.1,223.0 609.2,212.5 609.3,221.0 609.5,227.7 609.6,209.7 609.8,209.4 609.9,222.9 610.0,214.1 610.2,209.0 610.3,231.7 610.5,221.0 610.6,226.5 610.7,211.6 610.9,234.3 611.0,212.9 611.2,210.0 611.3,227.3 611.4,225.5 611.6,235.4 611.7,227.5 611.9,210.7 612.0,225.1 612.1,234.5 612.3,224.1 612.4,211.1 612.6,222.0 612.7,231.8 612.8,210.5 613.0,210.8 613.1,229.0 613.3,220.7 613.4,222.3 613.5,204.8 613.7,210.5 613.8,206.7 614.0,216.4 614.1,229.3 614.2,217.2 614.4,205.2 614.5,195.8 614.7,218.7 614.8,201.9 614.9,207.9 615.1,215.7 615.2,204.1 615.4,221.3 615.5,196.5 615.6,200.2 615.8,210.6 615.9,180.2 616.1,209.7 616.2,211.7 616.3,185.5 616.5,209.0 616.6,201.9 616.8,206.8 616.9,206.5 617.0,180.9 617.2,189.4 617.3,202.7 617.5,197.4 617.6,206.5 617.7,187.5 617.9,212.1 618.0,188.9 618.2,192.2 618.3,205.5 618.4,207.1 618.6,189.3 618.7,203.5 618.9,188.2 619.0,213.6 619.1,188.4 619.3,181.6 619.4,185.4 619.6,196.2 619.7,204.1 619.8,196.9 620.0,197.5 620.1,194.8 620.3,181.9 620.4,199.5 620.5,214.1 620.7,194.3 620.8,211.0 621.0,193.1 621.1,213.0 621.2,195.7 621.4,212.2 621.5,203.4 621.7,199.8 621.8,210.3 621.9,202.6 622.1,192.5 622.2,190.2 622.4,203.4 622.5,205.3 622.6,222.3 622.8,192.0 622.9,194.7 623.1,207.8 623.2,202.1 623.3,214.6 623.5,197.8 623.6,198.6 623.8,211.3 623.9,208.7 624.0,200.1 624.2,195.7 624.3,209.4 624.5,192.7 624.6,210.6 624.7,207.9 624.9,209.2 625.0,191.0 625.2,191.5 625.3,207.6 625.4,222.1 625.6,201.8 625.7,199.9 625.9,219.7 626.0,210.6 626.1,215.4 626.3,228.3 626.4,228.6 626.6,216.9 626.7,233.2 626.8,210.8 627.0,232.4 627.1,215.9 627.3,231.6 627.4,212.0 627.5,217.1 627.7,231.9 627.8,217.7 628.0,236.0 628.1,228.5 628.2,209.8 628.4,205.0 628.5,222.8 628.7,213.1 628.8,226.4 628.9,213.3 629.1,228.2 629.2,210.0 629.4,221.0 629.5,209.1 629.6,213.2 629.8,234.4 629.9,207.0 630.1,215.9 630.2,224.9 630.3,215.9 630.5,224.3 630.6,222.0 630.8,219.7 630.9,238.1 631.0,223.4 631.2,223.4 631.3,233.4 631.5,233.4 631.6,227.9 631.7,232.9 631.9,215.3 632.0,226.0 632.2,232.0 632.3,206.7 632.4,219.4 632.6,216.3 632.7,226.6 632.9,221.4 633.0,214.7 633.1,212.8 633.3,230.4 633.4,222.3 633.6,227.9 633.7,226.7 633.8,216.8 634.0,224.6 634.1,225.5 634.3,236.3 634.4,206.7 634.5,212.1 634.7,216.7 634.8,211.4 635.0,211.2 635.1,229.4 635.2,217.1 635.4,215.6 635.5,207.8 635.7,229.0 635.8,208.5 635.9,211.8 636.1,220.6 636.2,228.2 636.4,231.0 636.5,221.6 636.6,227.1 636.8,214.3 636.9,212.2 637.1,228.7 637.2,230.0 637.3,227.4 637.5,210.1 637.6,220.4 637.8,211.2 637.9,232.8 638.0,224.1 638.2,225.9 638.3,210.7 638.5,208.5 638.6,203.3 638.7,229.9 638.9,221.5 639.0,212.3 639.2,237.4 639.3,206.2 639.4,226.2 639.6,215.0 639.7,209.0 639.9,233.5 640.0,233.8 640.1,206.7 640.3,214.6 640.4,233.2 640.6,220.2 640.7,231.4 640.8,221.8 641.0,229.2 641.1,232.9 641.3,214.2 641.4,220.9 641.5,205.0 641.7,233.3 641.8,220.9 642.0,207.3 642.1,227.5 642.2,216.6 642.4,216.3 642.5,225.0 642.7,221.3 642.8,232.3 642.9,220.8 643.1,212.1 643.2,216.5 643.4,209.2 643.5,224.4 643.6,217.1 643.8,212.7 643.9,206.6 644.1,213.7 644.2,222.1 644.3,224.1 644.5,228.4 644.6,230.8 644.8,225.6 644.9,218.8 645.0,233.3 645.2,209.4 645.3,220.9 645.5,212.8 645.6,217.5 645.7,211.7 645.9,211.9 646.0,221.7 646.2,220.7 646.3,207.0 646.4,202.6 646.6,212.7 646.7,215.2 646.9,213.0 647.0,224.8 647.1,220.0 647.3,224.6 647.4,210.9 647.6,227.1 647.7,230.1 647.8,208.0 648.0,208.9 648.1,209.0 648.3,213.6 648.4,219.5 648.5,228.5 648.7,209.1 648.8,205.4 649.0,207.2 649.1,225.2 649.2,233.4 649.4,227.0 649.5,207.6 649.7,224.6 649.8,208.3 649.9,216.5 650.1,206.3 650.2,202.9 650.4,201.7 650.5,205.3 650.6,204.9 650.8,203.7 650.9,188.8 651.1,213.2 651.2,186.7 651.3,205.6 651.5,200.7 651.6,195.5 651.8,208.6 651.9,206.0 652.0,222.7 652.2,202.2 652.3,184.0 652.5,210.5 652.6,203.0 652.7,189.8 652.9,188.4 653.0,187.1 653.2,197.6 653.3,198.4 653.4,199.0 653.6,202.3 653.7,215.9 653.9,199.6 654.0,215.9 654.1,206.1 654.3,198.3 654.4,194.8 654.6,187.6 654.7,213.0 654.8,199.8 655.0,194.8 655.1,202.2 655.3,215.0 655.4,193.6 655.5,222.3 655.7,210.5 655.8,199.8 656.0,189.4 656.1,198.7 656.2,211.3 656.4,197.4 656.5,181.1 656.7,211.2 656.8,204.8 656.9,195.2 657.1,199.8 657.2,195.9 657.4,203.5 657.5,202.9 657.6,195.6 657.8,189.7 657.9,203.8 658.1,212.0 658.2,207.0 658.3,221.6 658.5,195.5 658.6,206.0 658.8,210.8 658.9,193.3 659.0,201.9 659.2,208.6 659.3,199.7 659.5,196.3 659.6,216.0 659.7,218.7 659.9,216.1 660.0,199.3 660.2,213.9 660.3,212.8 660.4,223.2 660.6,207.2 660.7,206.8 660.9,223.0 661.0,222.6 661.1,218.3 661.3,198.6 661.4,217.3 661.6,212.1 661.7,222.3 661.8,214.6 662.0,217.8 662.1,217.5 662.3,220.9 662.4,204.8 662.5,227.4 662.7,232.9 662.8,231.2 663.0,228.7 663.1,215.3 663.2,229.0 663.4,230.3 663.5,211.4 663.7,222.5 663.8,216.0 663.9,210.9 664.1,212.8 664.2,215.8 664.4,215.1 664.5,236.3 664.6,219.7 664.8,224.3 664.9,209.2 665.1,217.9 665.2,223.2 665.3,218.3 665.5,209.1 665.6,212.5 665.8,200.9 665.9,223.1 666.0,223.0 666.2,220.2 666.3,217.8 666.5,219.6 666.6,211.1 666.7,234.2 666.9,225.2 667.0,218.7 667.2,214.7 667.3,207.9 667.4,239.9 667.6,232.7 667.7,225.2 667.9,228.4 668.0,219.5 668.1,215.5 668.3,224.0 668.4,213.5 668.6,231.6 668.7,210.4 668.8,216.0 669.0,234.5 669.1,228.8 669.3,211.4 669.4,211.5 669.5,240.1 669.7,220.7 669.8,213.1 670.0,208.0 670.1,216.1 670.2,218.2 670.4,202.1 670.5,234.5 670.7,200.3 670.8,230.5 670.9,220.3 671.1,217.1 671.2,217.2 671.4,233.5 671.5,218.1 671.6,220.6 671.8,209.5 671.9,225.0 672.1,218.7 672.2,207.3 672.3,219.7 672.5,230.3 672.6,223.6 672.8,223.3 672.9,206.7 673.0,231.8 673.2,219.7 673.3,224.2 673.5,208.0 673.6,213.2 673.7,217.8 673.9,229.0 674.0,218.6 674.2,224.4 674.3,210.7 674.4,215.1 674.6,207.8 674.7,225.3 674.9,226.5 675.0,228.0 675.1,232.1 675.3,213.9 675.4,230.1 675.6,226.7 675.7,228.2 675.8,210.6 676.0,229.6 676.1,218.9 676.3,233.3 676.4,219.1 676.5,233.6 676.7,217.0 676.8,228.9 677.0,210.0 677.1,206.6 677.2,225.7 677.4,215.7 677.5,217.2 677.7,200.2 677.8,219.5 677.9,220.2 678.1,210.0 678.2,210.9 678.4,231.9 678.5,232.2 678.6,231.8 678.8,218.9 678.9,229.2 679.1,234.0 679.2,211.8 679.3,217.6 679.5,225.6 679.6,229.2 679.8,211.7 679.9,217.0 680.0,205.1 680.2,235.4 680.3,214.5 680.5,219.7 680.6,211.1 680.7,216.4 680.9,211.1 681.0,227.7 681.2,225.3 681.3,213.5 681.4,231.1 681.6,236.1 681.7,223.1 681.9,216.3 682.0,216.7 682.1,231.2 682.3,218.3 682.4,209.9 682.6,218.8 682.7,230.5 682.8,213.6 683.0,206.5 683.1,204.6 683.3,213.7 683.4,211.3 683.5,218.7 683.7,211.6 683.8,195.2 684.0,218.3 684.1,202.2 684.2,207.2 684.4,191.8 684.5,192.9 684.7,191.2 684.8,212.0 684.9,213.0 685.1,204.3 685.2,205.3 685.4,194.1 685.5,186.8 685.6,210.7 685.8,202.7 685.9,213.1 686.1,222.8 686.2,207.7 686.3,189.1 686.5,216.7 686.6,192.5 686.8,206.6 686.9,200.2 687.0,198.2 687.2,195.7 687.3,209.2 687.5,214.9 687.6,203.8 687.7,193.6 687.9,201.8 688.0,196.4 688.2,216.9 688.3,187.4 688.4,201.9 688.6,211.2 688.7,195.4 688.9,192.9 689.0,195.4 689.1,198.8 689.3,208.7 689.4,192.6 689.6,191.0 689.7,209.2 689.8,190.6 690.0,199.4 690.1,188.7 690.3,212.7 690.4,208.5 690.5,216.4 690.7,200.6 690.8,209.6 691.0,213.9 691.1,190.4 691.2,211.1 691.4,188.3 691.5,197.4 691.7,193.5 691.8,203.3 691.9,205.3 692.1,186.6 692.2,199.5 692.4,197.7 692.5,203.8 692.6,192.7 692.8,203.5 692.9,197.2 693.1,214.5 693.2,213.1 693.3,210.2 693.5,209.2 693.6,208.8 693.8,203.6 693.9,209.8 694.0,222.6 694.2,221.3 694.3,219.4 694.5,206.8 694.6,203.8 694.7,224.4 694.9,226.9 695.0,218.0 695.2,230.7 695.3,236.6 695.4,226.8 695.6,211.4 695.7,209.9 695.9,210.7 696.0,213.6 696.1,214.1 696.3,232.9 696.4,227.6 696.6,222.3 696.7,233.2 696.8,206.9 697.0,215.6 697.1,218.6 697.3,207.2 697.4,235.6 697.5,216.8 697.7,216.2 697.8,218.6 698.0,232.5 698.1,216.8 698.2,241.4 698.4,228.8 698.5,219.9 698.7,210.3 698.8,223.6 698.9,232.5 699.1,207.5 699.2,213.3 699.4,230.0 699.5,220.6 699.6,212.0 699.8,218.5 699.9,211.8 700.1,207.7 700.2,209.9 700.3,221.4 700.5,228.9 700.6,224.1 700.8,210.1 700.9,228.0 701.0,232.7 701.2,217.7 701.3,216.2 701.5,231.6 701.6,221.9 701.7,209.9 701.9,228.3 702.0,223.4 702.2,233.5 702.3,228.6 702.4,215.5 702.6,218.1 702.7,207.8 702.9,217.4 703.0,219.8 703.1,215.0 703.3,207.3 703.4,208.8 703.6,225.6 703.7,233.9 703.8,233.4 704.0,226.3 704.1,237.9 704.3,223.3 704.4,238.5 704.5,214.2 704.7,212.4 704.8,235.6 705.0,218.2 705.1,206.7 705.2,208.2 705.4,209.5 705.5,230.2 705.7,207.8 705.8,220.4 705.9,210.6 706.1,229.1 706.2,231.2 706.4,214.0 706.5,219.5 706.6,222.6 706.8,220.9 706.9,234.3 707.1,207.0 707.2,215.4 707.3,238.2 707.5,231.2 707.6,227.0 707.8,215.0 707.9,212.4 708.0,223.3 708.2,211.3 708.3,229.7 708.5,234.0 708.6,212.5 708.7,226.9 708.9,224.8 709.0,221.0 709.2,232.4 709.3,225.0 709.4,220.4 709.6,222.6 709.7,218.5 709.9,218.7 710.0,216.7 710.1,218.5 710.3,233.8 710.4,207.0 710.6,217.7 710.7,223.2 710.8,199.6 711.0,214.6 711.1,215.7 711.3,231.6 711.4,213.3 711.5,226.2 711.7,219.7 711.8,213.1 712.0,230.8 712.1,209.8 712.2,234.2 712.4,219.5 712.5,208.3 712.7,208.5 712.8,225.2 712.9,231.6 713.1,223.9 713.2,223.1 713.4,213.6 713.5,227.1 713.6,213.0 713.8,222.6 713.9,218.9 714.1,211.7 714.2,215.8 714.3,233.3 714.5,223.6 714.6,218.1 714.8,224.5 714.9,207.5 715.0,222.3 715.2,215.2 715.3,231.8 715.5,213.7 715.6,214.3 715.7,211.0 715.9,218.9 716.0,211.2 716.2,210.3 716.3,215.9 716.4,227.9 716.6,219.6 716.7,227.5 716.9,216.9 717.0,211.0 717.1,217.6 717.3,212.1 717.4,203.6 717.6,208.5 717.7,209.9 717.8,200.9 718.0,203.2 718.1,223.1 718.3,219.2 718.4,192.3 718.5,203.2 718.7,217.2 718.8,210.6 719.0,207.6 719.1,209.1 719.2,206.4 719.4,187.0 719.5,212.8 719.7,205.6 719.8,192.2 719.9,203.0 720.1,200.2 720.2,195.6 720.4,209.8 720.5,210.2 720.6,203.2 720.8,209.1 720.9,212.4 721.1,208.0 721.2,194.7 721.3,193.5 721.5,188.9 721.6,203.9 721.8,196.7 721.9,205.4 722.0,215.7 722.2,195.3 722.3,213.7 722.5,187.2 722.6,202.0 722.7,215.4 722.9,204.1 723.0,197.7 723.2,206.2 723.3,187.1 723.4,191.9 723.6,211.4 723.7,215.8 723.9,191.1 724.0,206.2 724.1,195.3 724.3,200.0 724.4,191.8 724.6,190.4 724.7,193.6 724.8,210.4 725.0,204.8 725.1,209.2 725.3,209.3 725.4,205.5 725.5,203.7 725.7,190.9 725.8,185.5 726.0,207.9 726.1,210.7 726.2,196.0 726.4,209.6 726.5,197.7 726.7,191.0 726.8,200.4 726.9,196.7 727.1,202.1 727.2,213.7 727.4,208.5 727.5,214.4 727.6,206.2 727.8,198.9 727.9,216.0 728.1,196.2 728.2,229.1 728.3,212.7 728.5,214.7 728.6,226.7 728.8,205.6 728.9,221.2 729.0,223.8 729.2,199.5 729.3,232.0 729.5,231.1 729.6,230.5 729.7,227.9 729.9,233.7 730.0,206.7 730.2,213.1 730.3,222.3 730.4,241.2 730.6,225.8 730.7,222.4 730.9,221.4 731.0,206.8 731.1,226.6 731.3,230.4 731.4,216.0 731.6,229.7 731.7,234.5 731.8,207.8 732.0,208.7 732.1,215.6 732.3,219.1 732.4,232.1 732.5,222.2 732.7,215.2 732.8,216.3 733.0,233.4 733.1,229.7 733.2,210.0 733.4,210.1 733.5,234.2 733.7,233.5 733.8,236.8 733.9,207.0 734.1,232.4 734.2,217.5 734.4,227.9 734.5,224.3 734.6,219.3 734.8,217.8 734.9,233.1 735.1,224.4 735.2,207.3 735.3,232.7 735.5,213.1 735.6,223.7 735.8,215.8 735.9,232.2 736.0,227.7 736.2,231.4 736.3,226.7 736.5,210.6 736.6,207.2 736.7,230.7 736.9,234.1 737.0,212.7 737.2,206.6 737.3,218.1 737.4,215.9 737.6,208.7 737.7,226.1 737.9,208.6 738.0,226.5 738.1,222.7 738.3,227.8 738.4,207.3 738.6,204.8 738.7,226.4 738.8,209.2 739.0,208.6 739.1,216.3 739.3,208.8 739.4,229.0 739.5,228.9 739.7,232.6 739.8,214.3 740.0,234.1 740.1,225.4 740.2,218.0 740.4,230.4 740.5,205.5 740.7,232.4 740.8,211.8 740.9,223.2 741.1,206.7 741.2,226.6 741.4,213.7 741.5,230.7 741.6,202.1 741.8,236.6 741.9,213.4 742.1,219.2 742.2,224.5 742.3,213.0 742.5,223.0 742.6,218.8 742.8,232.8 742.9,219.8 743.0,217.2 743.2,221.6 743.3,209.3 743.5,220.4 743.6,213.3 743.7,230.5 743.9,225.5 744.0,234.0 744.2,210.4 744.3,220.5 744.4,214.6 744.6,223.4 744.7,211.1 744.9,223.3 745.0,213.2 745.1,229.5 745.3,220.7 745.4,221.7 745.6,210.6 745.7,230.0 745.8,208.6 746.0,211.6 746.1,233.7 746.3,219.7 746.4,222.8 746.5,211.8 746.7,232.9 746.8,227.8 747.0,215.7 747.1,224.8 747.2,232.7 747.4,231.9 747.5,233.4 747.7,230.3 747.8,206.4 747.9,233.5 748.1,230.0 748.2,216.6 748.4,207.0 748.5,224.0 748.6,223.1 748.8,230.0 748.9,219.6 749.1,227.8 749.2,219.4 749.3,199.6 749.5,240.7 749.6,228.4 749.8,229.5 749.9,230.4 750.0,215.7 750.2,219.4 750.3,231.9 750.5,208.1 750.6,219.1 750.7,215.3 750.9,228.1 751.0,201.9 751.2,215.3 751.3,194.5 751.4,200.2 751.6,222.7 751.7,217.1 751.9,209.8 752.0,213.5 752.1,183.9 752.3,198.4 752.4,206.3 752.6,193.1 752.7,205.5 752.8,194.5 753.0,183.5 753.1,190.3 753.3,181.8 753.4,202.8 753.5,186.4 753.7,205.7 753.8,187.1 754.0,192.3 754.1,184.7 754.2,199.7 754.4,185.4 754.5,195.9 754.7,189.5 754.8,195.1 754.9,198.1 755.1,198.3 755.2,179.5 755.4,211.0 755.5,200.0 755.6,185.1 755.8,197.0 755.9,205.6 756.1,205.5 756.2,206.8 756.3,188.4 756.5,184.8 756.6,189.8 756.8,200.8 756.9,182.7 757.0,200.7 757.2,195.3 757.3,209.6 757.5,175.1 757.6,201.2 757.7,199.5 757.9,212.0 758.0,204.2 758.2,191.0 758.3,207.0 758.4,206.2 758.6,209.4 758.7,198.2 758.9,187.6 759.0,183.4 759.1,186.1 759.3,189.0 759.4,200.2 759.6,206.9 759.7,186.9 759.8,185.6 760.0,184.9 760.1,191.3 760.3,200.8 760.4,187.2 760.5,175.7 760.7,210.2 760.8,183.7 761.0,209.5 761.1,210.4 761.2,203.2 761.4,197.9 761.5,202.0 761.7,201.7 761.8,205.4 761.9,181.9 762.1,186.9 762.2,192.9 762.4,193.9 762.5,203.4 762.6,205.0 762.8,188.9 762.9,210.7 763.1,203.5 763.2,207.4 763.3,181.9 763.5,196.1 763.6,185.7 763.8,189.9 763.9,182.9 764.0,194.3 764.2,195.5 764.3,191.1 764.5,194.9 764.6,183.3 764.7,185.3 764.9,190.6 765.0,199.5 765.2,185.3 765.3,208.8 765.4,191.0 765.6,198.2 765.7,177.9 765.9,181.8 766.0,197.3 766.1,182.8 766.3,192.4 766.4,189.6 766.6,192.2 766.7,208.6 766.8,189.2 767.0,211.3 767.1,187.3 767.3,183.1 767.4,205.2 767.5,205.5 767.7,208.5 767.8,206.1 768.0,208.6 768.1,188.8 768.2,175.1 768.4,187.1 768.5,199.6 768.7,214.1 768.8,209.5 768.9,196.7 769.1,207.7 769.2,199.4 769.4,208.0 769.5,188.4 769.6,196.8 769.8,195.2 769.9,185.3 770.1,197.7 770.2,206.9 770.3,209.6 770.5,183.1 770.6,195.0 770.8,204.1 770.9,185.3 771.0,211.1 771.2,195.0 771.3,195.2 771.5,205.5 771.6,189.7 771.7,181.4 771.9,184.0 772.0,194.2 772.2,188.0 772.3,175.7 772.4,205.1 772.6,197.3 772.7,202.8 772.9,185.0 773.0,195.8 773.1,207.1 773.3,191.3 773.4,193.6 773.6,188.5 773.7,219.4 773.8,185.0 774.0,204.9 774.1,212.1 774.3,184.9 774.4,185.2 774.5,200.6 774.7,179.0 774.8,189.4 775.0,184.7 775.1,209.1 775.2,176.2 775.4,205.2 775.5,184.8 775.7,201.6 775.8,184.6 775.9,206.0 776.1,192.4 776.2,199.4 776.4,198.9 776.5,192.8 776.6,199.3 776.8,201.2 776.9,199.4 777.1,196.1 777.2,182.0 777.3,191.1 777.5,206.9 777.6,200.9 777.8,189.3 777.9,197.9 778.0,205.2 778.2,192.4 778.3,207.4 778.5,210.6 778.6,183.6 778.7,182.2 778.9,202.6 779.0,195.2 779.2,186.4 779.3,205.9 779.4,199.7 779.6,188.2 779.7,182.5 779.9,199.3 780.0,198.7 780.1,196.1 780.3,190.3 780.4,210.7 780.6,181.6 780.7,187.7 780.8,197.4 781.0,210.4 781.1,217.6 781.3,201.9 781.4,182.7 781.5,207.6 781.7,183.0 781.8,209.7 782.0,186.7 782.1,210.4 782.2,201.7 782.4,184.3 782.5,206.8 782.7,186.1 782.8,173.9 782.9,208.0 783.1,195.4 783.2,200.6 783.4,205.1 783.5,209.7 783.6,209.6 783.8,188.4 783.9,185.0 784.1,199.8 784.2,192.9 784.3,191.7 784.5,206.2 784.6,204.5 784.8,198.6 784.9,191.1 785.0,199.3 785.2,191.3 785.3,186.8 785.5,193.1 785.6,205.5 785.7,183.7 785.9,201.6 786.0,184.8 786.2,212.9 786.3,212.9 786.4,195.2 786.6,188.3 786.7,184.1 786.9,202.5 787.0,185.4 787.1,207.9 787.3,185.9 787.4,202.3 787.6,193.8 787.7,197.7 787.8,193.4 788.0,189.5 788.1,185.5 788.3,212.6 788.4,191.1 788.5,207.9 788.7,216.1 788.8,184.4 789.0,203.3 789.1,199.0 789.2,184.2 789.4,203.4 789.5,197.5 789.7,189.0 789.8,192.6 789.9,210.1 790.1,190.7 790.2,185.3 790.4,184.4 790.5,211.8 790.6,193.4 790.8,211.1 790.9,208.4 791.1,184.2 791.2,202.2 791.3,195.3 791.5,198.5 791.6,210.0 791.8,182.4 791.9,202.3 792.0,184.5 792.2,210.1 792.3,196.9 792.5,188.2 792.6,184.1 792.7,205.2 792.9,205.8 793.0,207.9 793.2,211.7 793.3,199.3 793.4,207.3 793.6,203.1 793.7,192.8 793.9,209.0 794.0,191.3 794.1,184.1 794.3,192.5 794.4,211.8 794.6,194.4 794.7,198.9 794.8,196.0 795.0,212.1 795.1,198.7 795.3,186.7 795.4,198.1 795.5,195.8 795.7,211.4 795.8,175.3 796.0,198.0 796.1,196.8 796.2,192.6 796.4,209.0 796.5,198.4 796.7,206.7 796.8,188.4 796.9,193.2 797.1,188.1 797.2,211.0 797.4,199.1 797.5,210.3 797.6,202.2 797.8,189.4 797.9,193.5 798.1,212.8 798.2,191.7 798.3,193.4 798.5,210.1 798.6,189.8 798.8,207.4 798.9,196.9" fill="none" stroke="#000" stroke-width="1.8" stroke-linejoin="round"/>
<path d="M518 200 L519.5 158 L521 205" fill="none" stroke="#000" stroke-width="1.6" />
<line x1="147.3" y1="280" x2="147.3" y2="558.9" stroke="#505050" stroke-width="2.3"/>
<line x1="141.5" y1="558" x2="147.3" y2="558" stroke="#505050" stroke-width="2.1"/>
<line x1="141.5" y1="446.9" x2="147.3" y2="446.9" stroke="#505050" stroke-width="2.1"/>
<line x1="141.5" y1="336.6" x2="147.3" y2="336.6" stroke="#505050" stroke-width="2.1"/>
<line x1="168.3" y1="558.2" x2="396.6" y2="557.6" stroke="#5a5a5a" stroke-width="2.4"/>
<line x1="169.2" y1="557.6" x2="169.2" y2="562.2" stroke="#5a5a5a" stroke-width="2.2"/>
<line x1="273.6" y1="557.6" x2="273.6" y2="562.2" stroke="#5a5a5a" stroke-width="2.2"/>
<line x1="395.5" y1="557.6" x2="395.5" y2="562.2" stroke="#5a5a5a" stroke-width="2.2"/>
<circle cx="243.9" cy="300.0" r="6.8" fill="#000"/>
<circle cx="326.6" cy="300.0" r="6.8" fill="#000"/>
<circle cx="176.6" cy="344.3" r="6.8" fill="#000"/>
<circle cx="280.0" cy="344.3" r="6.8" fill="#000"/>
<circle cx="279.6" cy="411.9" r="6.8" fill="#000"/>
<circle cx="281.4" cy="432.3" r="5.7" fill="none" stroke="#161616" stroke-width="2.0"/>
<circle cx="286.3" cy="442.8" r="5.7" fill="none" stroke="#161616" stroke-width="2.0"/>
<circle cx="284.2" cy="478.9" r="5.7" fill="none" stroke="#161616" stroke-width="2.0"/>
<circle cx="284.9" cy="489.4" r="5.7" fill="none" stroke="#161616" stroke-width="2.0"/>
<circle cx="280.0" cy="501.3" r="5.7" fill="none" stroke="#161616" stroke-width="2.0"/>
<circle cx="280.7" cy="512.9" r="5.7" fill="none" stroke="#161616" stroke-width="2.0"/>
<circle cx="284.2" cy="524.1" r="5.7" fill="none" stroke="#161616" stroke-width="2.0"/>
<circle cx="282.1" cy="534.9" r="5.7" fill="none" stroke="#161616" stroke-width="2.0"/>
<circle cx="280.7" cy="546.1" r="5.7" fill="none" stroke="#161616" stroke-width="2.0"/>
<line x1="486.7" y1="280" x2="486.7" y2="558.9" stroke="#505050" stroke-width="2.3"/>
<line x1="481.5" y1="558" x2="486.7" y2="558" stroke="#505050" stroke-width="2.1"/>
<line x1="481.5" y1="440" x2="486.7" y2="440" stroke="#505050" stroke-width="2.1"/>
<line x1="481.5" y1="323.8" x2="486.7" y2="323.8" stroke="#505050" stroke-width="2.1"/>
<line x1="505.3" y1="558" x2="788" y2="558" stroke="#5e5e5e" stroke-width="2.8"/>
<line x1="538.4" y1="558" x2="538.4" y2="562.8" stroke="#505050" stroke-width="2.1"/>
<line x1="625.6" y1="558" x2="625.6" y2="562.8" stroke="#505050" stroke-width="2.1"/>
<line x1="714" y1="558" x2="714" y2="562.8" stroke="#505050" stroke-width="2.1"/>
<circle cx="568.8" cy="282.3" r="6.6" fill="#000"/>
<circle cx="603.8" cy="282.3" r="6.6" fill="#000"/>
<circle cx="640.1" cy="282.3" r="6.6" fill="#000"/>
<circle cx="675.1" cy="282.3" r="6.6" fill="#000"/>
<circle cx="682.9" cy="282.3" r="6.6" fill="#000"/>
<circle cx="710.9" cy="282.3" r="6.6" fill="#000"/>
<circle cx="718.7" cy="282.3" r="6.6" fill="#000"/>
<circle cx="746.3" cy="282.3" r="6.6" fill="#000"/>
<circle cx="568.8" cy="332.9" r="6.6" fill="#000"/>
<circle cx="603.0" cy="332.9" r="6.6" fill="#000"/>
<circle cx="612.1" cy="332.9" r="6.6" fill="#000"/>
<circle cx="635.5" cy="332.9" r="6.6" fill="#000"/>
<circle cx="641.7" cy="332.9" r="6.6" fill="#000"/>
<circle cx="647.9" cy="332.9" r="6.6" fill="#000"/>
<circle cx="661.5" cy="332.9" r="6.6" fill="#000"/>
<circle cx="675.9" cy="332.9" r="6.6" fill="#000"/>
<circle cx="697.3" cy="332.9" r="6.6" fill="#000"/>
<circle cx="712.1" cy="332.9" r="6.6" fill="#000"/>
<circle cx="718.3" cy="332.9" r="6.6" fill="#000"/>
<circle cx="747.1" cy="332.9" r="6.6" fill="#000"/>
<circle cx="568.8" cy="382.3" r="6.6" fill="#000"/>
<circle cx="603.8" cy="382.3" r="6.6" fill="#000"/>
<circle cx="640.1" cy="382.3" r="6.6" fill="#000"/>
<circle cx="675.1" cy="382.3" r="6.6" fill="#000"/>
<circle cx="710.9" cy="382.3" r="6.6" fill="#000"/>
<circle cx="746.3" cy="382.3" r="6.6" fill="#000"/>
<circle cx="568.8" cy="432.1" r="6.6" fill="#000"/>
<circle cx="603.8" cy="432.1" r="6.6" fill="#000"/>
<circle cx="640.1" cy="432.1" r="6.6" fill="#000"/>
<circle cx="675.1" cy="432.1" r="6.6" fill="#000"/>
<circle cx="710.9" cy="432.1" r="6.6" fill="#000"/>
<circle cx="746.3" cy="432.1" r="6.6" fill="#000"/>
<circle cx="541.6" cy="482.4" r="6.6" fill="#000"/>
<circle cx="568.8" cy="482.4" r="6.6" fill="#000"/>
<circle cx="603.8" cy="482.4" r="6.6" fill="#000"/>
<circle cx="640.1" cy="482.4" r="6.6" fill="#000"/>
<circle cx="675.1" cy="482.4" r="6.6" fill="#000"/>
<circle cx="710.9" cy="482.4" r="6.6" fill="#000"/>
<circle cx="745.9" cy="482.4" r="6.6" fill="#000"/>
<circle cx="757.8" cy="482.4" r="6.6" fill="#000"/>
<circle cx="568.8" cy="533.1" r="6.6" fill="#000"/>
<circle cx="603.8" cy="533.1" r="6.6" fill="#000"/>
<circle cx="640.1" cy="533.1" r="6.6" fill="#000"/>
<circle cx="675.1" cy="533.1" r="6.6" fill="#000"/>
<circle cx="710.9" cy="533.1" r="6.6" fill="#000"/>
<circle cx="746.3" cy="533.1" r="6.6" fill="#000"/>
<circle cx="486.9" cy="695.3" r="6.4" fill="#000"/>
<circle cx="486.4" cy="730.2" r="4.7" fill="none" stroke="#161616" stroke-width="1.8"/>
<line x1="145.3" y1="683" x2="145.3" y2="960.2" stroke="#5e5e5e" stroke-width="2.3"/>
<line x1="139.3" y1="959.3" x2="145.3" y2="959.3" stroke="#505050" stroke-width="2.1"/>
<line x1="139.3" y1="849" x2="145.3" y2="849" stroke="#505050" stroke-width="2.1"/>
<line x1="139.3" y1="738.3" x2="145.3" y2="738.3" stroke="#505050" stroke-width="2.1"/>
<line x1="166.2" y1="964.4" x2="385.0" y2="964.4" stroke="#4c4c4c" stroke-width="2.4"/>
<line x1="167.0" y1="964.4" x2="167.0" y2="968.8" stroke="#4c4c4c" stroke-width="2.2"/>
<line x1="267.6" y1="964.4" x2="267.6" y2="968.8" stroke="#4c4c4c" stroke-width="2.2"/>
<line x1="384.0" y1="964.4" x2="384.0" y2="968.8" stroke="#4c4c4c" stroke-width="2.2"/>
<circle cx="188.2" cy="696.9" r="6.7" fill="#000"/>
<circle cx="211.6" cy="696.9" r="6.7" fill="#000"/>
<circle cx="268.1" cy="696.9" r="6.7" fill="#000"/>
<circle cx="171.0" cy="718.3" r="6.7" fill="#000"/>
<circle cx="200.4" cy="718.3" r="6.7" fill="#000"/>
<circle cx="235.5" cy="718.3" r="6.7" fill="#000"/>
<circle cx="262.8" cy="718.3" r="6.7" fill="#000"/>
<circle cx="167.8" cy="741.8" r="6.7" fill="#000"/>
<circle cx="188.2" cy="741.8" r="6.7" fill="#000"/>
<circle cx="213.4" cy="741.8" r="6.7" fill="#000"/>
<circle cx="342.7" cy="741.8" r="6.7" fill="#000"/>
<circle cx="173.4" cy="763.6" r="6.7" fill="#000"/>
<circle cx="217.9" cy="763.6" r="6.7" fill="#000"/>
<circle cx="347.9" cy="763.6" r="6.7" fill="#000"/>
<circle cx="327.3" cy="776.9" r="6.7" fill="#000"/>
<circle cx="174.5" cy="787.4" r="6.7" fill="#000"/>
<circle cx="193.4" cy="787.4" r="6.7" fill="#000"/>
<circle cx="219.3" cy="787.4" r="6.7" fill="#000"/>
<circle cx="239.0" cy="787.4" r="6.7" fill="#000"/>
<circle cx="255.1" cy="787.4" r="6.7" fill="#000"/>
<circle cx="289.8" cy="787.4" r="6.7" fill="#000"/>
<circle cx="349.3" cy="787.4" r="6.7" fill="#000"/>
<circle cx="374.6" cy="787.4" r="6.7" fill="#000"/>
<circle cx="178.7" cy="817.2" r="6.7" fill="#000"/>
<circle cx="193.4" cy="817.2" r="6.7" fill="#000"/>
<circle cx="210.2" cy="817.2" r="6.7" fill="#000"/>
<circle cx="223.2" cy="817.2" r="6.7" fill="#000"/>
<circle cx="249.1" cy="817.2" r="6.7" fill="#000"/>
<circle cx="267.4" cy="817.2" r="6.7" fill="#000"/>
<circle cx="289.8" cy="817.2" r="6.7" fill="#000"/>
<circle cx="352.5" cy="817.2" r="6.7" fill="#000"/>
<circle cx="270.1" cy="841.3" r="5.7" fill="none" stroke="#161616" stroke-width="2.0"/>
<circle cx="312.9" cy="841.3" r="5.7" fill="none" stroke="#161616" stroke-width="2.0"/>
<circle cx="343.2" cy="841.3" r="5.7" fill="none" stroke="#161616" stroke-width="2.0"/>
<circle cx="380.7" cy="841.3" r="5.7" fill="none" stroke="#161616" stroke-width="2.0"/>
<circle cx="244.3" cy="864.6" r="5.7" fill="none" stroke="#161616" stroke-width="2.0"/>
<circle cx="270.1" cy="864.6" r="5.7" fill="none" stroke="#161616" stroke-width="2.0"/>
<circle cx="285.1" cy="864.6" r="5.7" fill="none" stroke="#161616" stroke-width="2.0"/>
<circle cx="300.1" cy="864.6" r="5.7" fill="none" stroke="#161616" stroke-width="2.0"/>
<circle cx="342.9" cy="864.6" r="5.7" fill="none" stroke="#161616" stroke-width="2.0"/>
<circle cx="370.5" cy="864.6" r="5.7" fill="none" stroke="#161616" stroke-width="2.0"/>
<circle cx="270.1" cy="887.6" r="5.7" fill="none" stroke="#161616" stroke-width="2.0"/>
<circle cx="281.3" cy="887.6" r="5.7" fill="none" stroke="#161616" stroke-width="2.0"/>
<circle cx="295.4" cy="887.6" r="5.7" fill="none" stroke="#161616" stroke-width="2.0"/>
<circle cx="313.6" cy="887.6" r="5.7" fill="none" stroke="#161616" stroke-width="2.0"/>
<circle cx="345.9" cy="887.6" r="5.7" fill="none" stroke="#161616" stroke-width="2.0"/>
<circle cx="385.7" cy="887.6" r="5.7" fill="none" stroke="#161616" stroke-width="2.0"/>
<circle cx="274.6" cy="899.6" r="5.7" fill="none" stroke="#161616" stroke-width="2.0"/>
<circle cx="259.1" cy="910.6" r="5.7" fill="none" stroke="#161616" stroke-width="2.0"/>
<circle cx="270.1" cy="910.6" r="5.7" fill="none" stroke="#161616" stroke-width="2.0"/>
<circle cx="287.1" cy="910.6" r="5.7" fill="none" stroke="#161616" stroke-width="2.0"/>
<circle cx="316.9" cy="910.6" r="5.7" fill="none" stroke="#161616" stroke-width="2.0"/>
<circle cx="332.9" cy="910.6" r="5.7" fill="none" stroke="#161616" stroke-width="2.0"/>
<circle cx="370.7" cy="910.6" r="5.7" fill="none" stroke="#161616" stroke-width="2.0"/>
<circle cx="386.5" cy="910.6" r="5.7" fill="none" stroke="#161616" stroke-width="2.0"/>
<circle cx="275.6" cy="921.4" r="5.7" fill="none" stroke="#161616" stroke-width="2.0"/>
<circle cx="244.3" cy="930.1" r="5.7" fill="none" stroke="#161616" stroke-width="2.0"/>
<circle cx="270.1" cy="930.1" r="5.7" fill="none" stroke="#161616" stroke-width="2.0"/>
<circle cx="284.6" cy="930.1" r="5.7" fill="none" stroke="#161616" stroke-width="2.0"/>
<circle cx="300.6" cy="930.1" r="5.7" fill="none" stroke="#161616" stroke-width="2.0"/>
<circle cx="315.9" cy="930.1" r="5.7" fill="none" stroke="#161616" stroke-width="2.0"/>
<circle cx="331.7" cy="930.1" r="5.7" fill="none" stroke="#161616" stroke-width="2.0"/>
<circle cx="346.2" cy="930.1" r="5.7" fill="none" stroke="#161616" stroke-width="2.0"/>
<circle cx="359.7" cy="930.1" r="5.7" fill="none" stroke="#161616" stroke-width="2.0"/>
<circle cx="378.2" cy="930.1" r="5.7" fill="none" stroke="#161616" stroke-width="2.0"/>
<circle cx="260.1" cy="941.9" r="5.7" fill="none" stroke="#161616" stroke-width="2.0"/>
<circle cx="270.6" cy="941.9" r="5.7" fill="none" stroke="#161616" stroke-width="2.0"/>
<circle cx="281.6" cy="941.9" r="5.7" fill="none" stroke="#161616" stroke-width="2.0"/>
<circle cx="296.6" cy="941.9" r="5.7" fill="none" stroke="#161616" stroke-width="2.0"/>
<circle cx="313.6" cy="941.9" r="5.7" fill="none" stroke="#161616" stroke-width="2.0"/>
<circle cx="331.4" cy="941.9" r="5.7" fill="none" stroke="#161616" stroke-width="2.0"/>
<circle cx="346.4" cy="941.9" r="5.7" fill="none" stroke="#161616" stroke-width="2.0"/>
<circle cx="362.2" cy="941.9" r="5.7" fill="none" stroke="#161616" stroke-width="2.0"/>
<circle cx="381.5" cy="941.9" r="5.7" fill="none" stroke="#161616" stroke-width="2.0"/>
<circle cx="271.8" cy="953.4" r="5.7" fill="none" stroke="#161616" stroke-width="2.0"/>
<text x="6.66" y="30.80" font-size="43" fill="#0a0a0a" stroke="#0a0a0a" stroke-width="0.35" font-weight="bold" textLength="22.88" lengthAdjust="spacingAndGlyphs">a</text>
<text x="459.42" y="33.20" font-size="44" fill="#0a0a0a" stroke="#0a0a0a" stroke-width="0.35" font-weight="bold" textLength="28.19" lengthAdjust="spacingAndGlyphs">b</text>
<text transform="translate(27.00 0) rotate(-90)" y="0" font-size="34" fill="#1c1c1c" stroke="#1c1c1c" stroke-width="0.35"><tspan x="-131.69" textLength="19.45" lengthAdjust="spacingAndGlyphs">u</tspan> <tspan x="-103.10" textLength="44.41" lengthAdjust="spacingAndGlyphs">vib</tspan></text>
<text transform="translate(59.60 129.00) rotate(-90)" x="-1.61" y="0" font-size="34" fill="#1c1c1c" stroke="#1c1c1c" stroke-width="0.35" textLength="71.39" lengthAdjust="spacingAndGlyphs">(µm)</text>
<text x="85.66" y="84.00" font-size="31" fill="#1c1c1c" stroke="#1c1c1c" stroke-width="0.35" textLength="43.09" lengthAdjust="spacingAndGlyphs">1.2</text>
<text x="117.78" y="138.00" font-size="32" fill="#1c1c1c" stroke="#1c1c1c" stroke-width="0.35" textLength="20.02" lengthAdjust="spacingAndGlyphs">0</text>
<text transform="translate(67.70 0) rotate(-90)" y="0" font-size="31" fill="#1c1c1c" stroke="#1c1c1c" stroke-width="0.35"><tspan x="-247.53" textLength="34.81" lengthAdjust="spacingAndGlyphs">LF</tspan> <tspan x="-205.29" textLength="44.03" lengthAdjust="spacingAndGlyphs">(N)</tspan></text>
<text x="82.57" y="192.50" font-size="32.5" fill="#1c1c1c" stroke="#1c1c1c" stroke-width="0.35" textLength="45.97" lengthAdjust="spacingAndGlyphs">0.2</text>
<text x="116.33" y="247.60" font-size="33" fill="#1c1c1c" stroke="#1c1c1c" stroke-width="0.35" textLength="19.13" lengthAdjust="spacingAndGlyphs">0</text>
<text x="96.62" y="347.80" font-size="32" fill="#1c1c1c" stroke="#1c1c1c" stroke-width="0.35" textLength="39.87" lengthAdjust="spacingAndGlyphs">20</text>
<text x="98.47" y="457.60" font-size="32" fill="#1c1c1c" stroke="#1c1c1c" stroke-width="0.35" textLength="37.98" lengthAdjust="spacingAndGlyphs">10</text>
<text x="116.26" y="569.00" font-size="32" fill="#1c1c1c" stroke="#1c1c1c" stroke-width="0.35" textLength="20.24" lengthAdjust="spacingAndGlyphs">0</text>
<text transform="translate(64.40 0) rotate(-90)" y="0" font-size="33" fill="#1c1c1c" stroke="#1c1c1c" stroke-width="0.35"><tspan x="-481.19" textLength="22.98" lengthAdjust="spacingAndGlyphs">N</tspan> <tspan x="-449.93" textLength="113.90" lengthAdjust="spacingAndGlyphs">repeats</tspan></text>
<text x="127.69" y="600.20" font-size="33" fill="#1c1c1c" stroke="#1c1c1c" stroke-width="0.35" textLength="61.15" lengthAdjust="spacingAndGlyphs">-0.6</text>
<text x="264.19" y="600.20" font-size="33" fill="#1c1c1c" stroke="#1c1c1c" stroke-width="0.35" textLength="18.02" lengthAdjust="spacingAndGlyphs">0</text>
<text x="365.50" y="600.20" font-size="33" fill="#1c1c1c" stroke="#1c1c1c" stroke-width="0.35" textLength="48.93" lengthAdjust="spacingAndGlyphs">0.7</text>
<text y="640.30" font-size="29.5" fill="#1c1c1c" stroke="#1c1c1c" stroke-width="0.35"><tspan x="222.50" textLength="67.96" lengthAdjust="spacingAndGlyphs">time</tspan> <tspan x="301.67" textLength="38.12" lengthAdjust="spacingAndGlyphs">(s)</tspan></text>
<text x="434.33" y="333.30" font-size="32" fill="#1c1c1c" stroke="#1c1c1c" stroke-width="0.35" textLength="38.64" lengthAdjust="spacingAndGlyphs">10</text>
<text x="453.40" y="569.40" font-size="32" fill="#1c1c1c" stroke="#1c1c1c" stroke-width="0.35" textLength="19.58" lengthAdjust="spacingAndGlyphs">0</text>
<text x="513.19" y="598.30" font-size="34" fill="#1c1c1c" stroke="#1c1c1c" stroke-width="0.35" textLength="45.02" lengthAdjust="spacingAndGlyphs">0.3</text>
<text x="601.92" y="598.30" font-size="34" fill="#1c1c1c" stroke="#1c1c1c" stroke-width="0.35" textLength="43.44" lengthAdjust="spacingAndGlyphs">0.5</text>
<text x="689.91" y="598.30" font-size="34" fill="#1c1c1c" stroke="#1c1c1c" stroke-width="0.35" textLength="44.18" lengthAdjust="spacingAndGlyphs">0.7</text>
<text y="639.00" font-size="29.5" fill="#1c1c1c" stroke="#1c1c1c" stroke-width="0.35"><tspan x="587.70" textLength="69.80" lengthAdjust="spacingAndGlyphs">time</tspan> <tspan x="668.10" textLength="37.25" lengthAdjust="spacingAndGlyphs">(s)</tspan></text>
<text y="701.80" font-size="25" fill="#1c1c1c" stroke="#1c1c1c" stroke-width="0.35"><tspan x="506.76" textLength="97.50" lengthAdjust="spacingAndGlyphs">decrease</tspan> <tspan x="613.37" textLength="19.00" lengthAdjust="spacingAndGlyphs">in</tspan> <tspan x="642.60" textLength="79.41" lengthAdjust="spacingAndGlyphs">friction</tspan></text>
<text y="736.60" font-size="25" fill="#1c1c1c" stroke="#1c1c1c" stroke-width="0.35"><tspan x="506.97" textLength="92.42" lengthAdjust="spacingAndGlyphs">increase</tspan> <tspan x="609.17" textLength="19.00" lengthAdjust="spacingAndGlyphs">in</tspan> <tspan x="638.70" textLength="80.74" lengthAdjust="spacingAndGlyphs">friction</tspan></text>
<text x="94.60" y="751.60" font-size="32" fill="#1c1c1c" stroke="#1c1c1c" stroke-width="0.35" textLength="38.06" lengthAdjust="spacingAndGlyphs">20</text>
<text x="95.71" y="861.00" font-size="32" fill="#1c1c1c" stroke="#1c1c1c" stroke-width="0.35" textLength="37.12" lengthAdjust="spacingAndGlyphs">10</text>
<text x="114.92" y="970.40" font-size="32" fill="#1c1c1c" stroke="#1c1c1c" stroke-width="0.35" textLength="19.13" lengthAdjust="spacingAndGlyphs">0</text>
<text transform="translate(63.20 0) rotate(-90)" y="0" font-size="33" fill="#1c1c1c" stroke="#1c1c1c" stroke-width="0.35"><tspan x="-881.19" textLength="22.98" lengthAdjust="spacingAndGlyphs">N</tspan> <tspan x="-849.14" textLength="114.00" lengthAdjust="spacingAndGlyphs">repeats</tspan></text>
<text x="126.89" y="1003.60" font-size="33" fill="#1c1c1c" stroke="#1c1c1c" stroke-width="0.35" textLength="61.15" lengthAdjust="spacingAndGlyphs">-0.6</text>
<text x="257.98" y="1003.60" font-size="33" fill="#1c1c1c" stroke="#1c1c1c" stroke-width="0.35" textLength="18.24" lengthAdjust="spacingAndGlyphs">0</text>
<text x="363.50" y="1003.60" font-size="33" fill="#1c1c1c" stroke="#1c1c1c" stroke-width="0.35" textLength="48.72" lengthAdjust="spacingAndGlyphs">0.7</text>
<text y="1043.80" font-size="29.5" fill="#1c1c1c" stroke="#1c1c1c" stroke-width="0.35"><tspan x="222.50" textLength="67.96" lengthAdjust="spacingAndGlyphs">time</tspan> <tspan x="301.67" textLength="38.12" lengthAdjust="spacingAndGlyphs">(s)</tspan></text>
</g>
</svg>
</body></html>
